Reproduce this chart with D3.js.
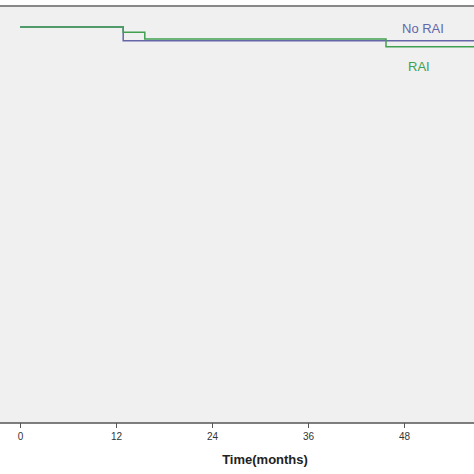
<!DOCTYPE html><html><head><script src="https://cdn.jsdelivr.net/npm/d3@7"></script>
<style>body{margin:0;background:#fff}</style></head><body><svg id="c" width="474" height="474"></svg>
<script>
const ticks=[0,12,24,36,48];
const noRaiT=[0,12.9,57],noRaiS=[1,0.965,0.965];
const raiT=[0,12.9,15.6,45.75,57],raiS=[1,0.987,0.970,0.95,0.95];
const svg=d3.select("#c");
const x=d3.scaleLinear().domain([0,48]).range([20,404]);
const y=d3.scaleLinear().domain([0,1]).range([423,27]);
svg.append("rect").attr("x",0).attr("y",6).attr("width",474).attr("height",417).attr("fill","#f0f0f0");
svg.append("line").attr("x1",0).attr("x2",474).attr("y1",6).attr("y2",6).attr("stroke","#888").attr("stroke-width",2);
const ax=svg.append("g").attr("transform","translate(0,423)").call(d3.axisBottom(x).tickValues(ticks).tickSize(5).tickPadding(5));
ax.select(".domain").remove();
ax.append("line").attr("x1",0).attr("x2",474).attr("stroke","#555").attr("stroke-width",1.5);
ax.selectAll("text").attr("font-family","Arial, Liberation Sans").attr("font-size",10).attr("fill","#333");
ax.selectAll(".tick line").attr("stroke","#555");
const line=d3.line().curve(d3.curveStepAfter).x(d=>x(d[0])).y(d=>y(d[1]));
svg.append("path").datum(noRaiT.map((t,i)=>[t,noRaiS[i]])).attr("d",line).attr("fill","none").attr("stroke","#6466a8").attr("stroke-width",1.5);
svg.append("path").datum(raiT.map((t,i)=>[t,raiS[i]])).attr("d",line).attr("fill","none").attr("stroke","#40a050").attr("stroke-width",1.5);
svg.append("text").attr("x",402).attr("y",33).text("No RAI").attr("font-family","Arial, Liberation Sans").attr("font-size",13).attr("fill","#6466a8");
svg.append("text").attr("x",408).attr("y",71).text("RAI").attr("font-family","Arial, Liberation Sans").attr("font-size",13).attr("fill","#40a050");
svg.append("text").attr("x",265).attr("y",464).attr("text-anchor","middle").text("Time(months)").attr("font-family","Arial, Liberation Sans").attr("font-weight","bold").attr("font-size",13).attr("fill","#222");
</script></body></html>
